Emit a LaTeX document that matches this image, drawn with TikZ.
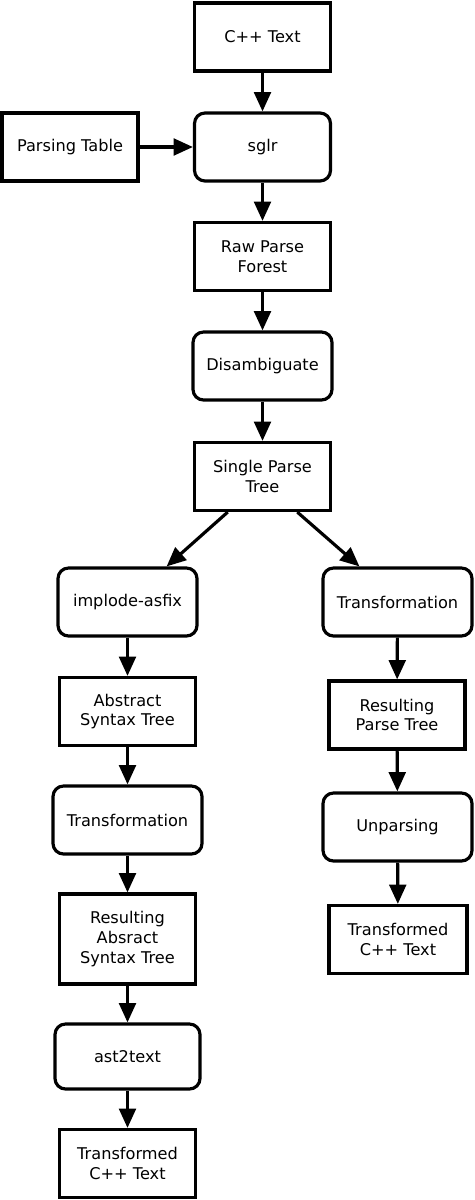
\documentclass[tikz,border=0pt]{standalone}
\usepackage{fontspec}
\setmainfont{DejaVu Sans}
\usepackage{tikz}
\usetikzlibrary{calc,arrows.meta}
\definecolor{ink}{HTML}{000000}
\tikzset{
  databox/.style={draw=ink, line width=1.8pt, rectangle, minimum width=136*0.02cm, minimum height=68*0.02cm, align=center, inner sep=2pt, font=\fontsize{9.2}{11.3}\selectfont},
  procbox/.style={databox, rounded corners=6pt},
  flow/.style={draw=ink, line width=1.8pt, -{Triangle[length=11pt,width=9.5pt]}}
}
\begin{document}
\begin{tikzpicture}[x=0.02cm, y=-0.02cm]
  \useasboundingbox (0,0) rectangle (474,1200);

  % main trunk
  \node[databox] (cpp) at (262.5,37) {C++ Text};
  \node[databox] (ptable) at (70,147) {Parsing Table};
  \node[procbox] (sglr) at (262.5,147) {sglr};
  \node[databox] (raw) at (262.5,256.5) {Raw Parse\\Forest};
  \node[procbox, minimum width=139*0.02cm] (disamb) at (262.5,366) {Disambiguate};
  \node[databox] (single) at (262.5,476.5) {Single Parse\\Tree};

  % left branch
  \node[procbox, minimum width=139*0.02cm] (implode) at (127.5,602) {implode-asfix};
  \node[databox] (ast) at (127.5,711.5) {Abstract\\Syntax Tree};
  \node[procbox, minimum width=149*0.02cm] (transL) at (127.5,820) {Transformation};
  \node[databox, minimum height=90*0.02cm] (rast) at (127.5,939) {Resulting\\Absract\\Syntax Tree};
  \node[procbox, minimum width=145*0.02cm, minimum height=65*0.02cm] (atext) at (127.5,1056.5) {ast2text};
  \node[databox] (tcppL) at (127.5,1163.5) {Transformed\\C++ Text};

  % right branch
  \node[procbox, minimum width=149*0.02cm] (transR) at (397.5,602) {Transformation};
  \node[databox] (rpt) at (397,715) {Resulting\\Parse Tree};
  \node[procbox, minimum width=149*0.02cm] (unparse) at (397.5,827) {Unparsing};
  \node[databox, minimum width=138*0.02cm] (tcppR) at (398,939.5) {Transformed\\C++ Text};

  \draw[flow] (cpp) -- (sglr);
  \draw[flow] (ptable) -- (sglr);
  \draw[flow] (sglr) -- (raw);
  \draw[flow] (raw) -- (disamb);
  \draw[flow] (disamb) -- (single);
  \draw[flow] ($(single.south)!0.5!(single.south west)$) -- ($(implode.north)!0.55!(implode.north east)$);
  \draw[flow] ($(single.south)!0.5!(single.south east)$) -- ($(transR.north)!0.5!(transR.north west)$);

  \draw[flow] (implode) -- (ast);
  \draw[flow] (ast) -- (transL);
  \draw[flow] (transL) -- (rast);
  \draw[flow] (rast) -- (atext);
  \draw[flow] (atext) -- (tcppL);

  \draw[flow] (transR) -- (rpt);
  \draw[flow] (rpt) -- (unparse);
  \draw[flow] (unparse) -- (tcppR);
\end{tikzpicture}
\end{document}
